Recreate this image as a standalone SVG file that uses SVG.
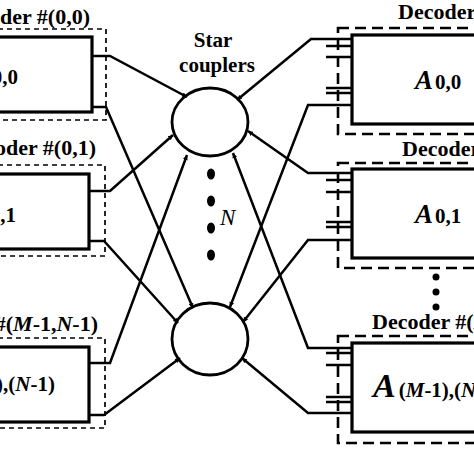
<svg xmlns="http://www.w3.org/2000/svg" width="474" height="474" viewBox="0 0 474 474">
<style>
.box{fill:none;stroke:#000;stroke-width:3.2}
.dl{fill:none;stroke:#000;stroke-width:1.7;stroke-dasharray:5 4}
.dr{fill:none;stroke:#000;stroke-width:2.6;stroke-dasharray:11 6}
.ln{fill:none;stroke:#000;stroke-width:2.5}
.st{fill:none;stroke:#000;stroke-width:2.5}
.cpl{fill:#fff;stroke:#000;stroke-width:2.8}
.lbl{font-family:"Liberation Serif","Times New Roman",serif;font-weight:bold;font-size:22px;fill:#000}
.cl{font-family:"Liberation Serif","Times New Roman",serif;font-weight:bold;font-size:21px;fill:#000}
.A{font-family:"Liberation Serif","Times New Roman",serif;font-weight:bold;font-style:italic;font-size:27px}
.sub{font-family:"Liberation Serif","Times New Roman",serif;font-weight:bold;font-size:21px}
.it{font-style:italic}
</style>
<defs>
<marker id="ah" viewBox="0 0 6 6" refX="6" refY="3" markerWidth="2" markerHeight="2" orient="auto" markerUnits="strokeWidth">
<path d="M0,0 L6,3 L0,6 z" fill="#000"/>
</marker>
</defs>
<rect width="474" height="474" fill="#fff"/>

<g id="decoder-left-0-0">
<rect class="dl" x="-20" y="29" width="126" height="91"/>
<rect class="box" x="-30" y="37" width="122" height="75"/>
<text class="lbl" x="90" y="24" text-anchor="end">Decoder #(0,0)</text>
<text class="sub" x="18" y="84" text-anchor="end"><tspan class="A">A</tspan><tspan>0,0</tspan></text>
</g>
<g id="decoder-left-0-1">
<rect class="dl" x="-20" y="165" width="125" height="91"/>
<rect class="box" x="-30" y="174" width="119" height="75"/>
<text class="lbl" x="96" y="155" text-anchor="end">Decoder #(0,1)</text>
<text class="sub" x="16" y="222" text-anchor="end"><tspan class="A">A</tspan><tspan>0,1</tspan></text>
</g>
<g id="decoder-left-m-n">
<rect class="dl" x="-20" y="338" width="125" height="90"/>
<rect class="box" x="-30" y="347" width="119" height="75"/>
<text class="lbl" x="98" y="331" text-anchor="end">Decoder #(<tspan class="it">M</tspan>-1,<tspan class="it">N</tspan>-1)</text>
<text class="sub" x="55" y="391" text-anchor="end"><tspan class="A">A</tspan>(<tspan class="it">M</tspan>-1),(<tspan class="it">N</tspan>-1)</text>
</g>

<g id="star-coupler-1">
<ellipse class="cpl" cx="210" cy="122" rx="38" ry="34"/>
</g>
<g id="star-coupler-2">
<ellipse class="cpl" cx="210" cy="339" rx="38" ry="36"/>
</g>
<g id="coupler-labels">
<text class="cl" x="213" y="47" text-anchor="middle">Star</text>
<text class="cl" x="217" y="72" text-anchor="middle">couplers</text>
<ellipse cx="211" cy="174" rx="4" ry="5.5"/>
<ellipse cx="211" cy="201" rx="4" ry="5.5"/>
<ellipse cx="211" cy="228" rx="4" ry="5.5"/>
<ellipse cx="211" cy="255" rx="4" ry="5.5"/>
<text class="cl it" x="220" y="225" style="font-weight:normal;font-size:23px">N</text>
</g>

<g id="decoder-right-0-0">
<rect class="dr" x="338" y="28" width="160" height="106"/>
<rect class="box" x="352" y="35" width="150" height="89"/>
<text class="lbl" x="398" y="19">Decoder #(0,0)</text>
<text x="415" y="89"><tspan class="A">A</tspan><tspan class="sub" dx="2">0,0</tspan></text>
</g>
<g id="decoder-right-0-1">
<rect class="dr" x="338" y="163" width="160" height="105"/>
<rect class="box" x="352" y="169" width="150" height="89"/>
<text class="lbl" x="402" y="156">Decoder #(0,1)</text>
<text x="415" y="223"><tspan class="A">A</tspan><tspan class="sub" dx="2">0,1</tspan></text>
</g>
<g id="decoder-right-m-n">
<rect class="dr" x="338" y="336" width="160" height="107"/>
<rect class="box" x="352" y="343" width="150" height="89"/>
<text class="lbl" x="372" y="329">Decoder #(<tspan class="it">M</tspan>-1,<tspan class="it">N</tspan>-1)</text>
<text x="373" y="397"><tspan class="A" style="font-size:34px">A</tspan><tspan class="sub" dx="3">(<tspan class="it">M</tspan>-1),(<tspan class="it">N</tspan>-1)</tspan></text>
</g>
<g id="ellipsis-right">
<circle cx="436" cy="277" r="3.5"/>
<circle cx="436" cy="292" r="3.5"/>
<circle cx="436" cy="307" r="3.5"/>
</g>

<g id="connectors">
<path class="ln" d="M92,56 H110 L187,97" marker-end="url(#ah)"/>
<path class="ln" d="M92,107 H106 L193,308" marker-end="url(#ah)"/>
<path class="ln" d="M89,191 H110 L173,135" marker-end="url(#ah)"/>
<path class="ln" d="M89,241 H104 L178,323" marker-end="url(#ah)"/>
<path class="ln" d="M89,363 H110 L187,155" marker-end="url(#ah)"/>
<path class="ln" d="M89,415 H104 L180,358" marker-end="url(#ah)"/>
<path class="ln" d="M352,39 H311 L237,100" marker-end="url(#ah)"/>
<path class="ln" d="M352,173 H308 L248,131" marker-end="url(#ah)"/>
<path class="ln" d="M352,348 H308 L233,153" marker-end="url(#ah)"/>
<path class="ln" d="M352,105 H308 L230,307" marker-end="url(#ah)"/>
<path class="ln" d="M352,240 H308 L243,322" marker-end="url(#ah)"/>
<path class="ln" d="M352,413 H308 L242,358" marker-end="url(#ah)"/>
<path class="st" d="M326,46 H352 M326,57 H352 M326,88 H352 M326,93 H352"/>
<path class="st" d="M326,180 H352 M326,192 H352 M326,222 H352 M326,227 H352"/>
<path class="st" d="M326,353 H352 M326,365 H352 M326,397 H352 M326,402 H352"/>
</g>
</svg>
